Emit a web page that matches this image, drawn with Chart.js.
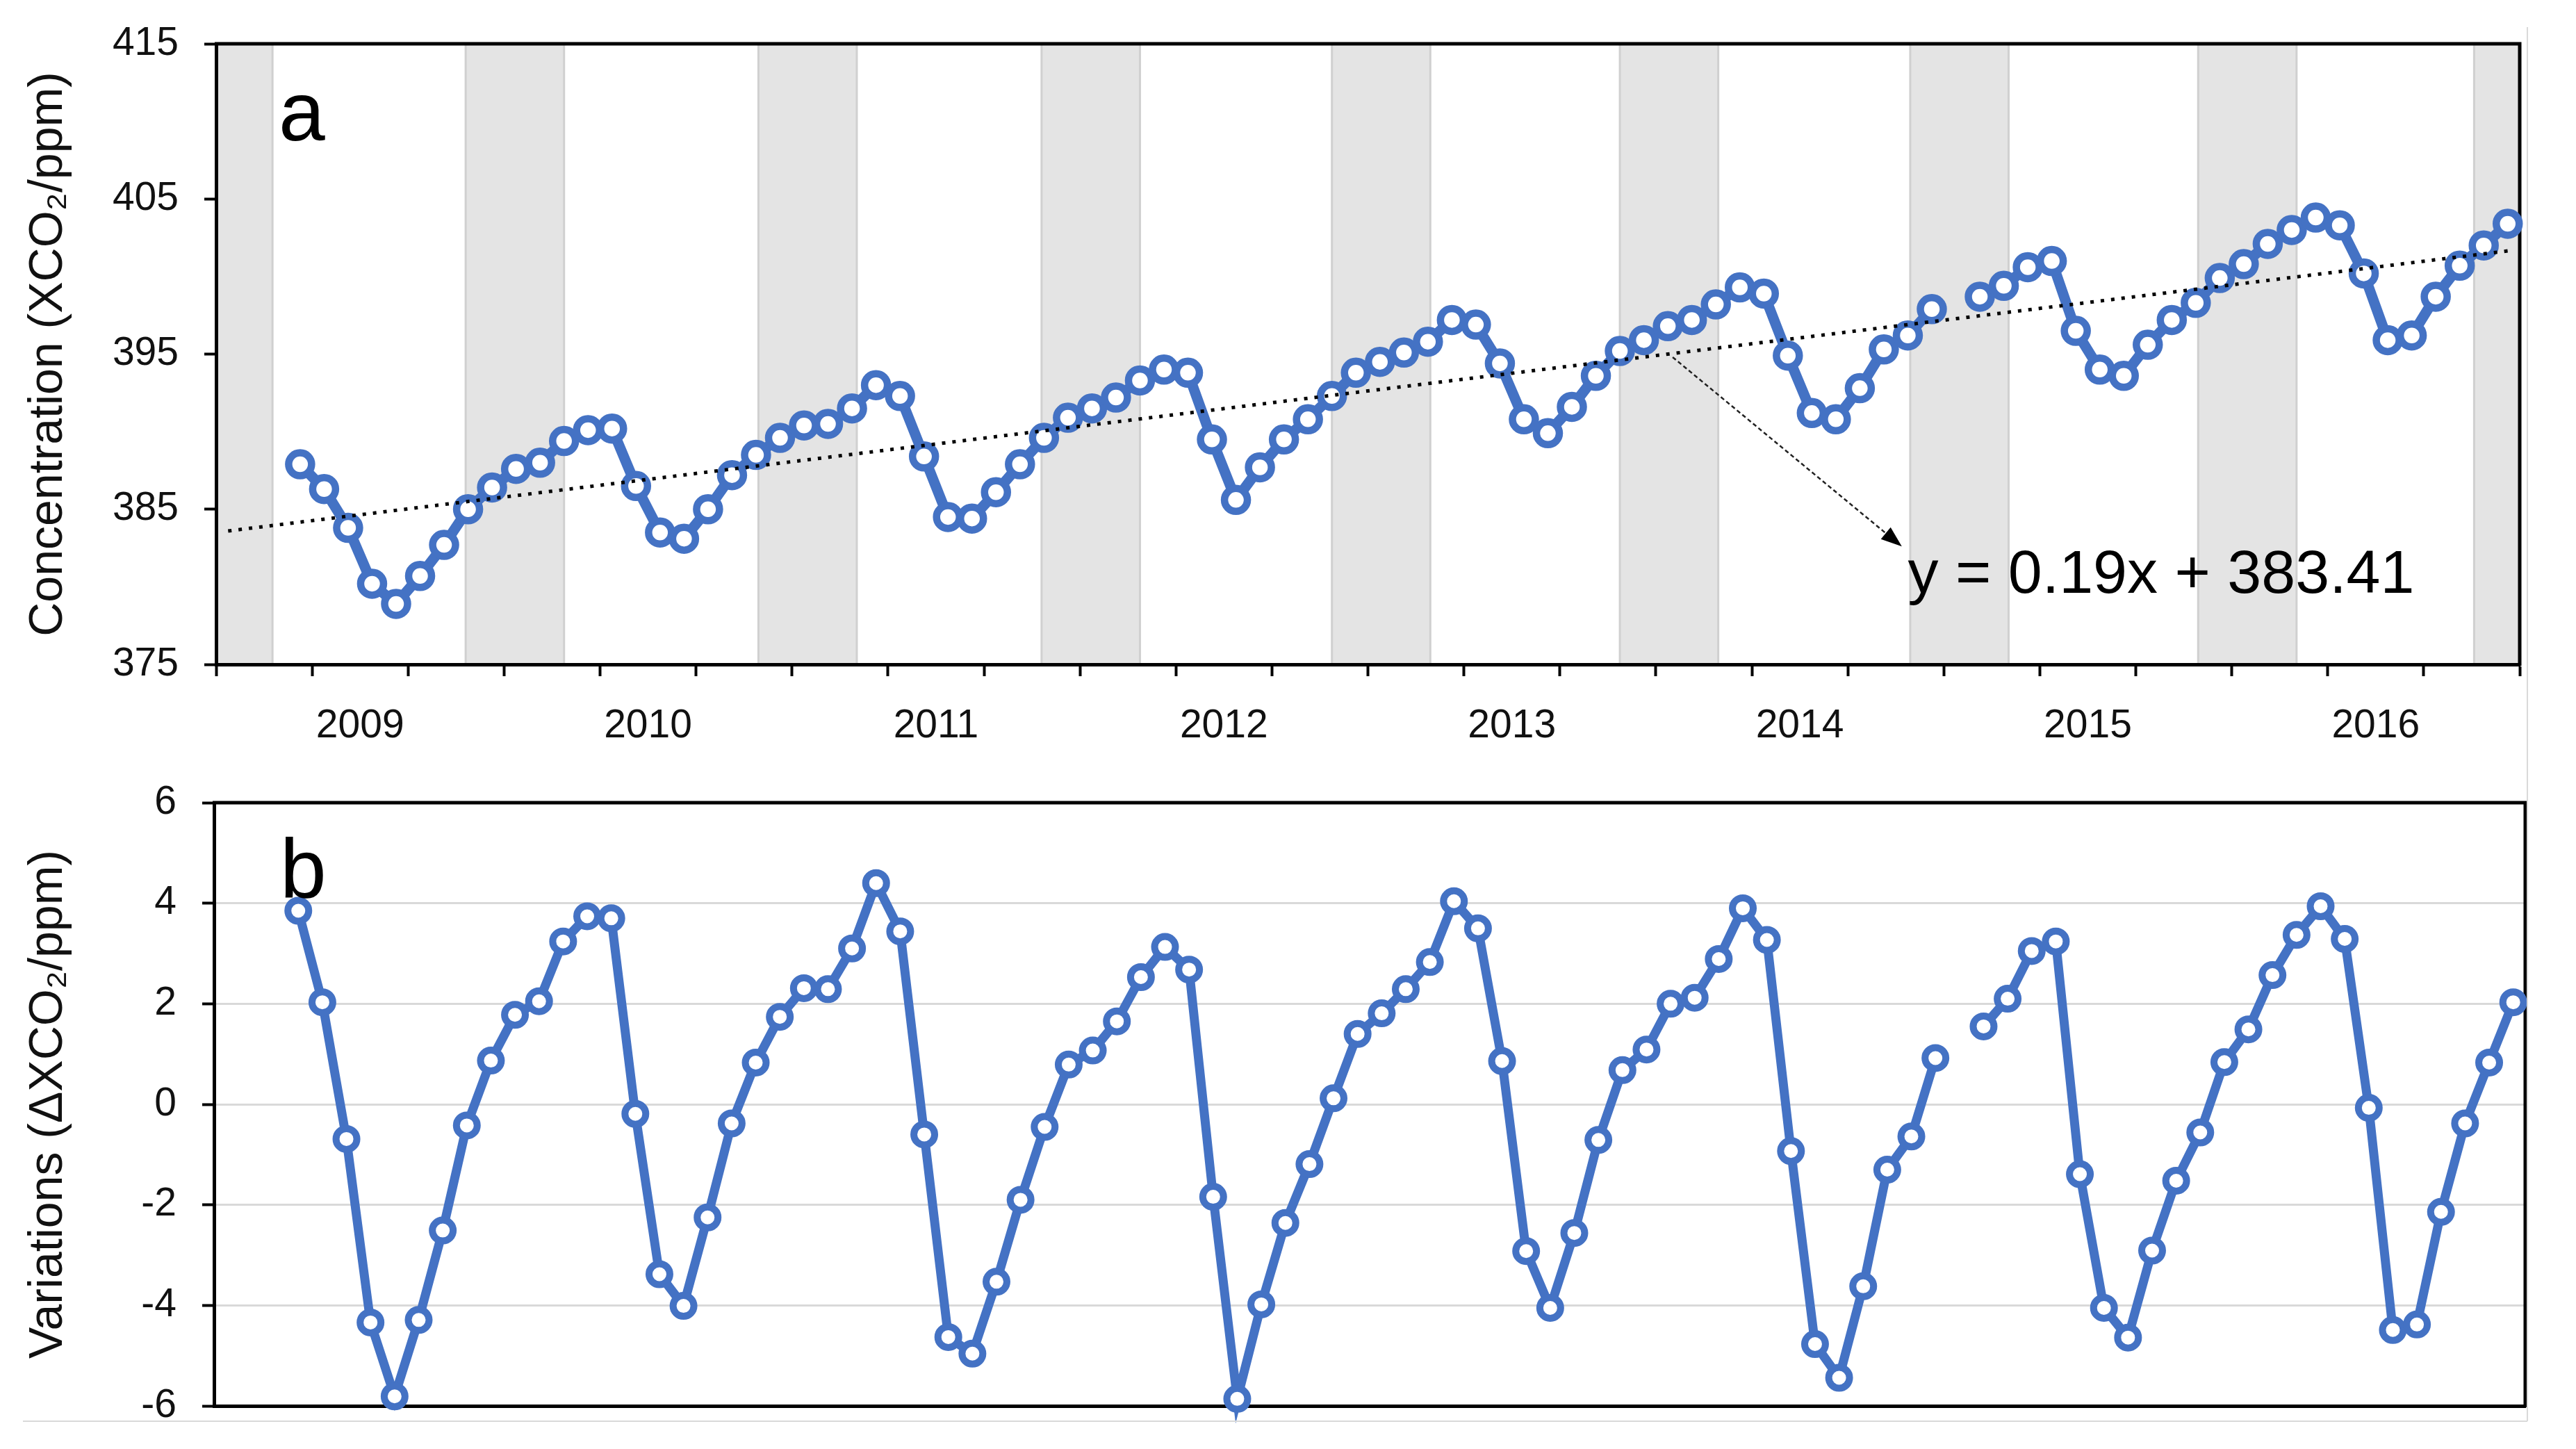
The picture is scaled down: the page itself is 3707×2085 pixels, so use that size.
<!DOCTYPE html>
<html>
<head>
<meta charset="utf-8">
<script src="https://cdn.jsdelivr.net/npm/chart.js@4.4.1/dist/chart.umd.min.js"></script>
<style>
  html, body { margin: 0; padding: 0; background: #fff; }
  #wrap { position: relative; width: 3707px; height: 2085px; overflow: hidden; }
  canvas { position: absolute; left: 0; }
  #chartA { top: 0; }
  #chartB { top: 1100px; }
</style>
</head>
<body>
<div id="wrap">
  <canvas id="chartA" width="3707" height="1100"></canvas>
  <canvas id="chartB" width="3707" height="985"></canvas>
</div>
<script>
// x is a month index: 0 = Jan 2009 ... 95 = Dec 2016
const years = ['2009', '2010', '2011', '2012', '2013', '2014', '2015', '2016'];
const firstMonth = 3; // series start in April 2009

// panel a: XCO2 concentration (ppm), Apr 2009 - Dec 2016, Jan 2015 missing
const concentration = [
  387.9, 386.3, 383.8, 380.2, 378.9, 380.7, 382.7, 385.0, 386.4,
  387.6, 388.0, 389.4, 390.1, 390.2, 386.5, 383.5, 383.1, 385.0, 387.2, 388.5, 389.6,
  390.4, 390.5, 391.5, 393.0, 392.3, 388.4, 384.5, 384.4, 386.1, 387.9, 389.6, 390.9,
  391.5, 392.2, 393.3, 394.0, 393.8, 389.5, 385.6, 387.7, 389.5, 390.8, 392.3, 393.8,
  394.5, 395.1, 395.8, 397.2, 396.9, 394.4, 390.8, 389.9, 391.6, 393.6, 395.2, 395.9,
  396.8, 397.2, 398.2, 399.3, 398.9, 394.9, 391.2, 390.8, 392.8, 395.3, 396.2, 397.9,
  null, 398.7, 399.4, 400.6, 401.0, 396.5, 394.0, 393.6, 395.6, 397.2, 398.3, 399.9,
  400.8, 402.1, 403.0, 403.8, 403.3, 400.2, 395.9, 396.2, 398.7, 400.7, 402.0, 403.4
];

// panel b: detrended variations (ppm)
const variations = [
  3.85, 2.03, -0.69, -4.34, -5.81, -4.29, -2.51, -0.42, 0.87,
  1.78, 2.05, 3.24, 3.74, 3.70, -0.19, -3.38, -4.01, -2.25, -0.38, 0.83, 1.74,
  2.31, 2.29, 3.10, 4.40, 3.44, -0.60, -4.63, -4.96, -3.53, -1.90, -0.45, 0.79,
  1.07, 1.65, 2.53, 3.13, 2.68, -1.84, -5.86, -3.98, -2.36, -1.19, 0.12, 1.40,
  1.81, 2.29, 2.83, 4.04, 3.50, 0.86, -2.92, -4.05, -2.56, -0.71, 0.68, 1.09,
  2.00, 2.12, 2.89, 3.90, 3.27, -0.93, -4.77, -5.44, -3.62, -1.30, -0.64, 0.92,
  null, 1.55, 2.10, 3.05, 3.24, -1.39, -4.05, -4.64, -2.91, -1.52, -0.56, 0.84,
  1.49, 2.57, 3.37, 3.94, 3.29, -0.07, -4.49, -4.38, -2.14, -0.38, 0.83, 2.03
];

// linear trend shown in panel a (end points, month index 0 and 95)
const trendX = [0, 95];
const trendY = [383.6, 401.65];
const trendLabel = 'y = 0.19x + 383.41';

// grey season bands in panel a (month index)
const shadeStart = [-2.2, 9.9, 22.1, 33.9, 46.0, 58.0, 70.1, 82.1, 93.6];
const shadeEnd = [1.85, 14.0, 26.2, 38.0, 50.1, 62.1, 74.2, 86.2, 97.7];

const blue = '#4472C4';
const textColor = '#111';
Chart.defaults.font.family = "'Liberation Sans', Arial, sans-serif";
Chart.defaults.color = textColor;

function toPoints(values) {
  return values.map((v, i) => ({ x: firstMonth + i, y: v }));
}

// keep the tick-label overflow from shrinking the plot area
function noScalePadding(axis) {
  axis.paddingTop = 0;
  axis.paddingBottom = 0;
  axis.paddingLeft = 0;
  axis.paddingRight = 0;
}

// draws the grey bands behind everything
const shadePlugin = {
  id: 'shade',
  beforeDraw(chart) {
    const { ctx, chartArea: a, scales: { x } } = chart;
    ctx.save();
    ctx.beginPath();
    ctx.rect(a.left, a.top, a.right - a.left, a.bottom - a.top);
    ctx.clip();
    shadeStart.forEach((s, i) => {
      const x0 = x.getPixelForValue(s);
      const x1 = x.getPixelForValue(shadeEnd[i]);
      ctx.fillStyle = '#e4e4e4';
      ctx.fillRect(x0, a.top, x1 - x0, a.bottom - a.top);
      ctx.strokeStyle = '#d0d0d0';
      ctx.lineWidth = 3;
      ctx.beginPath();
      ctx.moveTo(x0, a.top); ctx.lineTo(x0, a.bottom);
      ctx.moveTo(x1, a.top); ctx.lineTo(x1, a.bottom);
      ctx.stroke();
    });
    ctx.restore();
  }
};

// top and right edges of the plot box
const boxPlugin = {
  id: 'box',
  beforeDatasetsDraw(chart) {
    const { ctx, chartArea: a } = chart;
    ctx.save();
    ctx.strokeStyle = '#000';
    ctx.lineWidth = 5;
    ctx.beginPath();
    ctx.moveTo(a.left - 2, a.top);
    ctx.lineTo(a.right, a.top);
    ctx.lineTo(a.right, a.bottom + 2);
    ctx.stroke();
    ctx.restore();
  }
};

// faint outer frame on the right and bottom of the figure
function framePlugin(bottomY) {
  return {
    id: 'frame',
    afterDraw(chart) {
      const { ctx } = chart;
      ctx.save();
      ctx.strokeStyle = '#d9d9d9';
      ctx.lineWidth = 2;
      ctx.beginPath();
      ctx.moveTo(3637, bottomY === null ? 39 : 0);
      ctx.lineTo(3637, bottomY === null ? chart.height : bottomY);
      if (bottomY !== null) {
        ctx.moveTo(33, bottomY);
        ctx.lineTo(3637, bottomY);
      }
      ctx.stroke();
      ctx.restore();
    }
  };
}

function letterPlugin(letter, x, y) {
  return {
    id: 'letter',
    afterDraw(chart) {
      const { ctx } = chart;
      ctx.save();
      ctx.fillStyle = '#000';
      ctx.font = "120px 'Liberation Sans', Arial, sans-serif";
      ctx.textBaseline = 'alphabetic';
      ctx.fillText(letter, x, y);
      ctx.restore();
    }
  };
}

// arrow from the trend line to the equation
const notePlugin = {
  id: 'note',
  afterDatasetsDraw(chart) {
    const { ctx, scales: { x, y } } = chart;
    const x0 = x.getPixelForValue(60.2), y0 = y.getPixelForValue(394.8);
    const x1 = x.getPixelForValue(69.75), y1 = y.getPixelForValue(382.6);
    const ang = Math.atan2(y1 - y0, x1 - x0);
    const headLen = 30, headHalf = 11;
    const bx = x1 - headLen * Math.cos(ang), by = y1 - headLen * Math.sin(ang);
    ctx.save();
    ctx.strokeStyle = '#222';
    ctx.lineWidth = 2.5;
    ctx.setLineDash([6, 4]);
    ctx.beginPath();
    ctx.moveTo(x0, y0);
    ctx.lineTo(bx, by);
    ctx.stroke();
    ctx.setLineDash([]);
    ctx.fillStyle = '#000';
    ctx.beginPath();
    ctx.moveTo(x1, y1);
    ctx.lineTo(bx + headHalf * Math.sin(ang), by - headHalf * Math.cos(ang));
    ctx.lineTo(bx - headHalf * Math.sin(ang), by + headHalf * Math.cos(ang));
    ctx.closePath();
    ctx.fill();
    ctx.font = "88px 'Liberation Sans', Arial, sans-serif";
    ctx.textBaseline = 'alphabetic';
    ctx.fillText(trendLabel, x.getPixelForValue(70.0), y.getPixelForValue(379.6));
    ctx.restore();
  }
};

const tickFont = { size: 57 };
const titleFont = { size: 68 };

// ---- panel a ----
new Chart(document.getElementById('chartA'), {
  type: 'line',
  data: {
    datasets: [
      {
        label: 'Trend',
        data: trendX.map((v, i) => ({ x: v, y: trendY[i] })),
        borderColor: '#000',
        borderWidth: 5,
        borderDash: [5, 10],
        pointRadius: 0,
        fill: false,
        order: 0
      },
      {
        label: 'XCO2',
        data: toPoints(concentration),
        borderColor: blue,
        borderWidth: 15,
        pointRadius: 16.5,
        pointBorderWidth: 10.5,
        pointBackgroundColor: '#fff',
        pointBorderColor: blue,
        spanGaps: false,
        clip: false,
        order: 1
      }
    ]
  },
  options: {
    responsive: false,
    devicePixelRatio: 1,
    animation: false,
    layout: { padding: { left: 0, top: 63, right: 81, bottom: 0 } },
    plugins: { legend: { display: false }, tooltip: { enabled: false } },
    scales: {
      x: {
        type: 'linear',
        min: -0.5,
        max: 95.5,
        afterBuildTicks: axis => {
          const t = [];
          for (let v = -0.5; v <= 95.5; v += 2) t.push({ value: v });
          axis.ticks = t;
        },
        afterFit: axis => { axis.height = 1100 - 956; noScalePadding(axis); },
        ticks: {
          autoSkip: false,
          maxRotation: 0,
          padding: 38,
          color: textColor,
          font: tickFont,
          callback: v => {
            const k = (v - 5.5) / 12;
            return Number.isInteger(k) ? years[k] : '';
          }
        },
        grid: {
          drawOnChartArea: false,
          tickLength: 17,
          tickWidth: 4,
          tickColor: ctx => (ctx.tick && (ctx.tick.value + 0.5) % 4 === 0) ? '#000' : 'rgba(0,0,0,0)'
        },
        border: { color: '#000', width: 5 }
      },
      y: {
        min: 375,
        max: 415,
        afterFit: axis => { axis.width = 311; noScalePadding(axis); },
        ticks: { stepSize: 10, padding: 37, color: textColor, font: tickFont },
        grid: { drawOnChartArea: false, tickLength: 17, tickWidth: 4, tickColor: '#000' },
        border: { color: '#000', width: 5 },
        title: {
          display: true,
          text: 'Concentration (XCO₂/ppm)',
          color: textColor,
          font: titleFont,
          padding: { top: 29, bottom: 0 }
        }
      }
    }
  },
  plugins: [shadePlugin, boxPlugin, notePlugin, letterPlugin('a', 401, 202), framePlugin(null)]
});

// ---- panel b ----
new Chart(document.getElementById('chartB'), {
  type: 'line',
  data: {
    datasets: [{
      label: 'Variations',
      data: toPoints(variations),
      borderColor: blue,
      borderWidth: 13,
      pointRadius: 15,
      pointBorderWidth: 10,
      pointBackgroundColor: '#fff',
      pointBorderColor: blue,
      spanGaps: false,
      clip: false
    }]
  },
  options: {
    responsive: false,
    devicePixelRatio: 1,
    animation: false,
    layout: { padding: { left: 0, top: 55, right: 73, bottom: 0 } },
    plugins: { legend: { display: false }, tooltip: { enabled: false } },
    scales: {
      x: {
        type: 'linear',
        min: -0.5,
        max: 95.5,
        afterFit: axis => { axis.height = 985 - 923; noScalePadding(axis); },
        ticks: { display: false },
        grid: { display: false },
        border: { color: '#000', width: 5 }
      },
      y: {
        min: -6,
        max: 6,
        afterFit: axis => { axis.width = 308; noScalePadding(axis); },
        ticks: { stepSize: 2, padding: 37, color: textColor, font: tickFont },
        grid: {
          color: ctx => (ctx.tick && Math.abs(ctx.tick.value) === 6) ? 'rgba(0,0,0,0)' : '#d9d9d9',
          lineWidth: 3,
          tickLength: 17,
          tickWidth: 4,
          tickColor: '#000'
        },
        border: { color: '#000', width: 5 },
        title: {
          display: true,
          text: 'Variations (ΔXCO₂/ppm)',
          color: textColor,
          font: titleFont,
          padding: { top: 29, bottom: 0 }
        }
      }
    }
  },
  plugins: [boxPlugin, letterPlugin('b', 403, 191), framePlugin(945)]
});
</script>
</body>
</html>
